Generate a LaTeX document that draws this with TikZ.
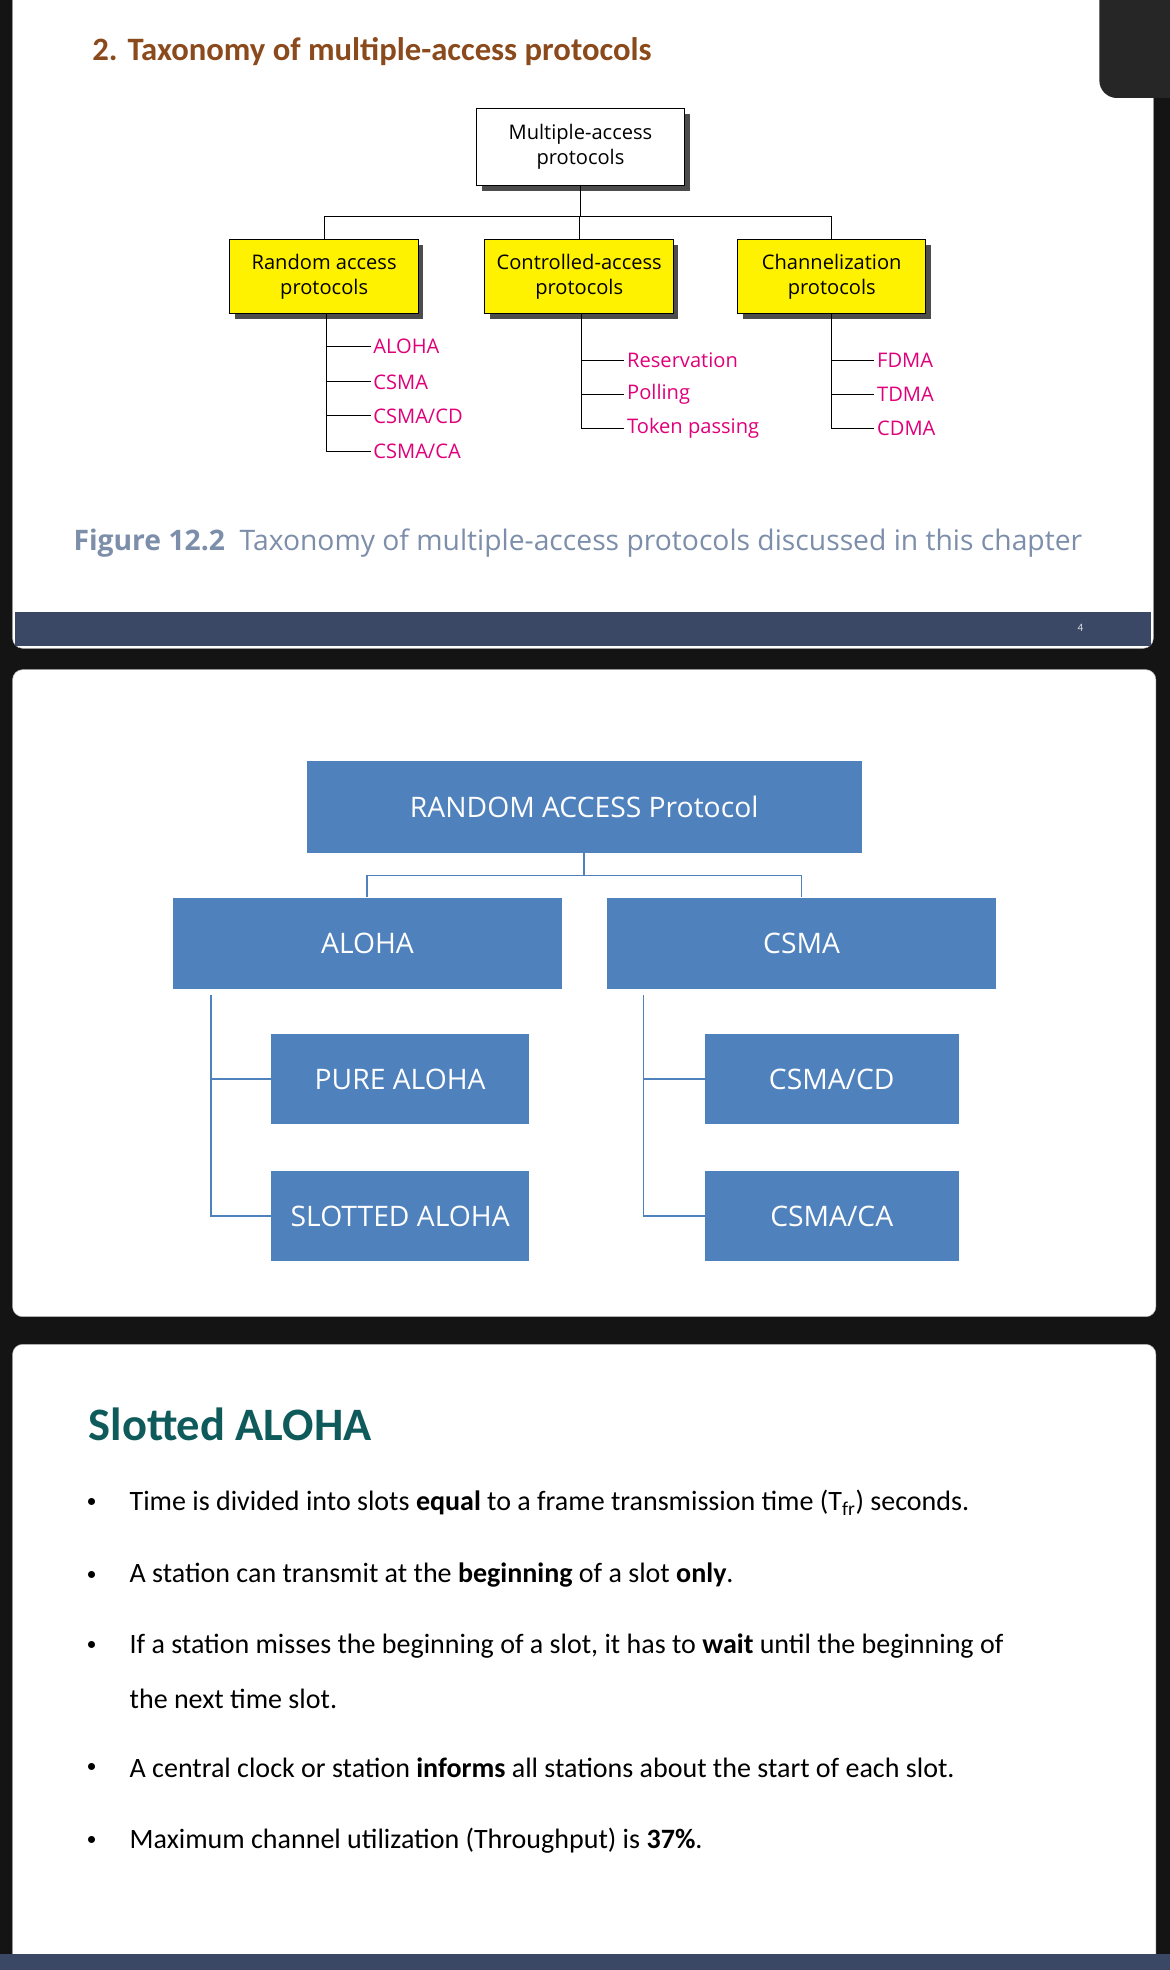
\documentclass[tikz,border=0pt]{standalone}
\usepackage{fontspec}
\setmainfont{Carlito}
\newfontfamily\osans{Open Sans}
\usetikzlibrary{positioning}
\definecolor{tbrown}{HTML}{8B4A1C}
\definecolor{tpink}{HTML}{E0007A}
\definecolor{tcap}{HTML}{7C8EAA}
\definecolor{tbar}{HTML}{3A4866}
\definecolor{tblue}{HTML}{4F81BD}
\definecolor{tteal}{HTML}{0F5B5B}
\tikzset{
  wbox/.style={draw, thick, fill=white, minimum width=165pt, minimum height=61pt, align=center, font=\osans\fontsize{16}{20}\selectfont},
  ybox/.style={draw, thick, fill=yellow, minimum width=150pt, minimum height=59pt, align=center, inner sep=1pt, font=\osans\fontsize{16}{20}\selectfont},
  shadow/.style={fill=black!70},
  item/.style={anchor=west, text=tpink, inner sep=2pt, font=\osans\fontsize{16}{19}\selectfont},
  bbox/.style={fill=tblue, text=white, align=center, font=\osans\fontsize{22.5}{26}\selectfont},
  bline/.style={draw=tblue, line width=1.2pt},
  bullet/.style={anchor=west, inner sep=0pt, font=\fontsize{22.3}{26}\selectfont}
}
\begin{document}
\begin{tikzpicture}[x=1pt, y=-1pt]
\useasboundingbox (0,0) rectangle (931,1568);
\fill[black!92] (0,0) rectangle (931,1568);
% Slides
\fill[white, draw=black!30, rounded corners=8pt] (10,-12) rectangle (918,516);
\fill[black!85, rounded corners=14pt] (875,-20) rectangle (945,78);
\fill[tbar] (12,487) rectangle (916,514);
\node[text=white!80!tbar, font=\fontsize{9}{10}\selectfont] (pgno) at (860,500) {4};
\fill[white, draw=black!30, rounded corners=8pt] (10,533) rectangle (920,1048);
\fill[white, draw=black!30, rounded corners=8pt] (10,1070) rectangle (920,1590);
\fill[tbar] (0,1555) rectangle (931,1568);

% Slide 1
\node[anchor=west, text=tbrown, font=\fontsize{26}{28}\selectfont\bfseries] (title) at (70,41) {2. Taxonomy of multiple-access protocols};
\fill[shadow] (384,91) rectangle (549,152);
\node[wbox] (root) at (462,117) {Multiple-access\\protocols};
\foreach \x/\n/\t in {258/rnd/Random access, 461/ctl/Controlled-access, 662/chn/Channelization}{
  \fill[shadow] (\x-71,195) rectangle (\x+79,254);
  \node[ybox] (\n) at (\x,220) {\t\\protocols};
}
\coordinate (bus) at (462,172);
\draw[thick] (root.south) -- (bus);
\draw[thick] (rnd.north) |- (bus) -| (chn.north);
\draw[thick] (ctl.north) -- (ctl.north |- bus);
% lists
\node[item] (aloha) at (295,276) {ALOHA};
\node[item] (csma) at (295,304) {CSMA};
\node[item] (cd) at (295,331) {CSMA/CD};
\node[item] (ca) at (295,359) {CSMA/CA};
\node[item] (resv) at (497,287) {Reservation};
\node[item] (poll) at (497,314) {Polling};
\node[item] (tok) at (497,341) {Token passing};
\node[item] (fdma) at (696,287) {FDMA};
\node[item] (tdma) at (696,314) {TDMA};
\node[item] (cdma) at (696,341) {CDMA};
\foreach \a in {aloha,csma,cd}
  \draw[thick] (\a.west -| 260,0) -- (\a.west);
\draw[thick] (260,250) |- (ca.west);
\foreach \a in {resv,poll}
  \draw[thick] (\a.west -| 463,0) -- (\a.west);
\draw[thick] (463,250) |- (tok.west);
\foreach \a in {fdma,tdma}
  \draw[thick] (\a.west -| 662,0) -- (\a.west);
\draw[thick] (662,250) |- (cdma.west);
\node[anchor=west, text=tcap, font=\osans\fontsize{22.5}{26}\selectfont] (cap) at (55,432) {\textbf{Figure 12.2}\ \ Taxonomy of multiple-access protocols discussed in this chapter};

% Slide 2
\node[bbox, minimum width=442pt, minimum height=73pt] (ra) at (465,642.5) {RANDOM ACCESS Protocol};
\node[bbox, minimum width=309pt, minimum height=72pt] (al) at (292.5,751) {ALOHA};
\node[bbox, minimum width=310pt, minimum height=72pt] (cs) at (638,751) {CSMA};
\node[bbox, minimum width=205pt, minimum height=72pt] (pure) at (318.5,859) {PURE ALOHA};
\node[bbox, minimum width=205pt, minimum height=72pt] (slot) at (318.5,968) {SLOTTED ALOHA};
\node[bbox, minimum width=202pt, minimum height=72pt] (cscd) at (662,859) {CSMA/CD};
\node[bbox, minimum width=202pt, minimum height=72pt] (csca) at (662,968) {CSMA/CA};
\coordinate (rbus) at (465,697);
\draw[bline] (ra.south) -- (rbus);
\draw[bline] (292,714) |- (rbus) -| (638,714);
\draw[bline] (168,792) |- (slot.west);
\draw[bline] (pure.west -| 168,0) -- (pure.west);
\draw[bline] (512,792) |- (csca.west);
\draw[bline] (cscd.west -| 512,0) -- (cscd.west);

% Slide 3
\node[anchor=west, text=tteal, font=\fontsize{37}{40}\selectfont\bfseries] (sa) at (67,1134) {Slotted ALOHA};
\foreach \y in {1196,1254,1310,1407,1465}
  \node[font=\fontsize{14}{16}\selectfont] at (73,\y) {$\bullet$};
\node[bullet] (b1) at (103,1196) {Time is divided into slots \textbf{equal} to a frame transmission time (T\textsubscript{fr}) seconds.};
\node[bullet] (b2) at (103,1254) {A station can transmit at the \textbf{beginning} of a slot \textbf{only}.};
\node[bullet] (b3) at (103,1310) {If a station misses the beginning of a slot, it has to \textbf{wait} until the beginning of};
\node[bullet] (b3b) at (103,1352) {the next time slot.};
\node[bullet] (b4) at (103,1407) {A central clock or station \textbf{informs} all stations about the start of each slot.};
\node[bullet] (b5) at (103,1465) {Maximum channel utilization (Throughput) is \textbf{37\%}.};
\end{tikzpicture}
\end{document}
